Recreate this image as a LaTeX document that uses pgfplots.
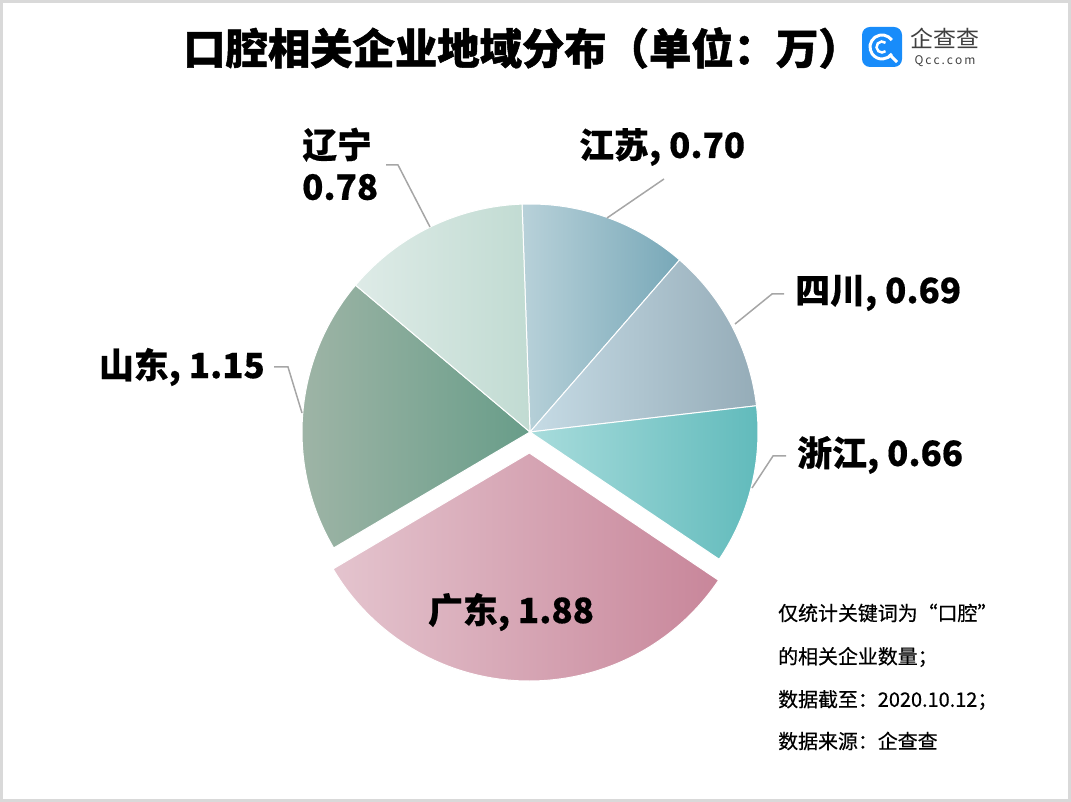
\documentclass[border=0pt]{standalone}
\usepackage{fontspec}
\setmainfont{Noto Sans CJK SC}
\usepackage{pgfplots}
\usepackage{pgfplotstable}
\pgfplotsset{compat=1.18}

% slice colours: left and right end of each horizontal gradient
\definecolor{pl0}{RGB}{184,209,217}\definecolor{pr0}{RGB}{120,168,184}
\definecolor{pl1}{RGB}{198,219,229}\definecolor{pr1}{RGB}{149,172,184}
\definecolor{pl2}{RGB}{168,220,220}\definecolor{pr2}{RGB}{96,186,187}
\definecolor{pl3}{RGB}{228,196,206}\definecolor{pr3}{RGB}{200,134,154}
\definecolor{pl4}{RGB}{162,182,168}\definecolor{pr4}{RGB}{104,157,137}
\definecolor{pl5}{RGB}{222,235,231}\definecolor{pr5}{RGB}{193,219,210}
\definecolor{leader}{RGB}{166,166,166}
\definecolor{logoblue}{RGB}{24,140,250}
\definecolor{frame}{RGB}{217,217,217}

% 江苏, 四川, 浙江, 广东, 山东, 辽宁 (clockwise from 12 o'clock)
\pgfplotstableread{
value explode
0.70 0
0.69 0
0.66 0
1.88 21
1.15 0
0.78 0
}\piedata

\begin{document}%
\xdef\total{0}%
\foreach \i in {0,...,5}{%
  \pgfplotstablegetelem{\i}{value}\of\piedata
  \pgfmathsetmacro\t{\total+\pgfplotsretval}%
  \xdef\total{\t}%
}%
\xdef\curang{92}%
\foreach \i in {0,...,5}{%
  \pgfplotstablegetelem{\i}{value}\of\piedata \let\v\pgfplotsretval
  \pgfplotstablegetelem{\i}{explode}\of\piedata \let\e\pgfplotsretval
  \pgfmathsetmacro\ea{\curang-\v/\total*360}%
  \pgfmathsetmacro\md{(\curang+\ea)/2}%
  \pgfmathsetmacro\cx{530+\e*cos(\md)}%
  \pgfmathsetmacro\cy{370+\e*sin(\md)}%
  \expandafter\xdef\csname sa\i\endcsname{\curang}%
  \expandafter\xdef\csname ea\i\endcsname{\ea}%
  \expandafter\xdef\csname cx\i\endcsname{\cx}%
  \expandafter\xdef\csname cy\i\endcsname{\cy}%
  \xdef\curang{\ea}%
}%
\begin{tikzpicture}
\begin{axis}[
    width=1071bp, height=802bp,
    scale only axis,
    hide axis,
    clip=false,
    xmin=0, xmax=1071,
    ymin=0, ymax=802,
]
    \coordinate (bl) at (rel axis cs:0,0);
    \coordinate (tr) at (rel axis cs:1,1);

    % slices
    \pgfplotsinvokeforeach{0,...,5}{
        \path[left color=pl#1, right color=pr#1, draw=white, line width=1bp]
            (axis cs:\csname cx#1\endcsname,\csname cy#1\endcsname)
            -- ++(\csname sa#1\endcsname:228bp)
            arc[start angle=\csname sa#1\endcsname, end angle=\csname ea#1\endcsname, radius=228bp]
            -- cycle;
    }

    % leader lines
    \addplot[leader, line width=1.5bp, no marks] coordinates {(430,575) (398,637) (386,637)};
    \addplot[leader, line width=1.5bp, no marks] coordinates {(302,389) (288,435) (274,435)};
    \addplot[leader, line width=1.5bp, no marks] coordinates {(607,584) (664,623)};
    \addplot[leader, line width=1.5bp, no marks] coordinates {(735,478) (772,508) (784,508)};
    \addplot[leader, line width=1.5bp, no marks] coordinates {(752,314) (773,346) (786,346)};

    % slice labels
    \begin{scope}[every node/.style={font=\fontsize{35}{42}\selectfont\bfseries\addfontfeature{FakeBold=0.4}, inner sep=0pt}]
    \node[anchor=west, align=left] at (axis cs:302,638) {辽宁\\0.78};
    \node[anchor=west] at (axis cs:579,655) {江苏, 0.70};
    \node[anchor=west] at (axis cs:795,509) {四川, 0.69};
    \node[anchor=west] at (axis cs:797,347) {浙江, 0.66};
    \node[anchor=east] at (axis cs:265,435) {山东, 1.15};
    \node at (axis cs:511,190) {广东, 1.88};
    \end{scope}

    % title and logo
    \node[font=\fontsize{42.5}{48}\selectfont\bfseries\addfontfeature{FakeBold=1.2}, inner sep=0pt] at (axis cs:522,754)
        {口腔相关企业地域分布（单位：万）};
    \fill[logoblue, rounded corners=8bp] (axis cs:862,735) rectangle (axis cs:902,775);
    \draw[white, line width=3bp] (axis cs:882,755) ++(35:12bp) arc[start angle=35, end angle=325, radius=12bp];
    \draw[white, line width=2.5bp] (axis cs:882,755) ++(50:5.5bp) arc[start angle=50, end angle=310, radius=5.5bp];
    \draw[white, line width=3bp] (axis cs:890,747) -- (axis cs:897,740);
    \node[font=\fontsize{23}{26}\selectfont, text=black!75, inner sep=0pt] at (axis cs:945,764) {企查查};
    \node[font=\fontsize{12}{14}\selectfont, text=black!75, inner sep=0pt] at (axis cs:945,741) {Q\,c\,c\,.\,c\,o\,m};

    % note
    \begin{scope}[every node/.style={font=\fontsize{20}{24}\selectfont\addfontfeature{FakeBold=0.5}, anchor=west, inner sep=0pt}]
    \node at (axis cs:778,189) {仅统计关键词为“口腔”};
    \node at (axis cs:778,145) {的相关企业数量；};
    \node at (axis cs:778,102) {数据截至：2020.10.12；};
    \node at (axis cs:778,61) {数据来源：企查查};
    \end{scope}

    % outer frame
    \draw[frame, line width=3bp] (axis cs:1.5,1.5) rectangle (axis cs:1069.5,800.5);
\end{axis}
\pgfresetboundingbox
\useasboundingbox (bl) rectangle (tr);
\end{tikzpicture}%
\end{document}
